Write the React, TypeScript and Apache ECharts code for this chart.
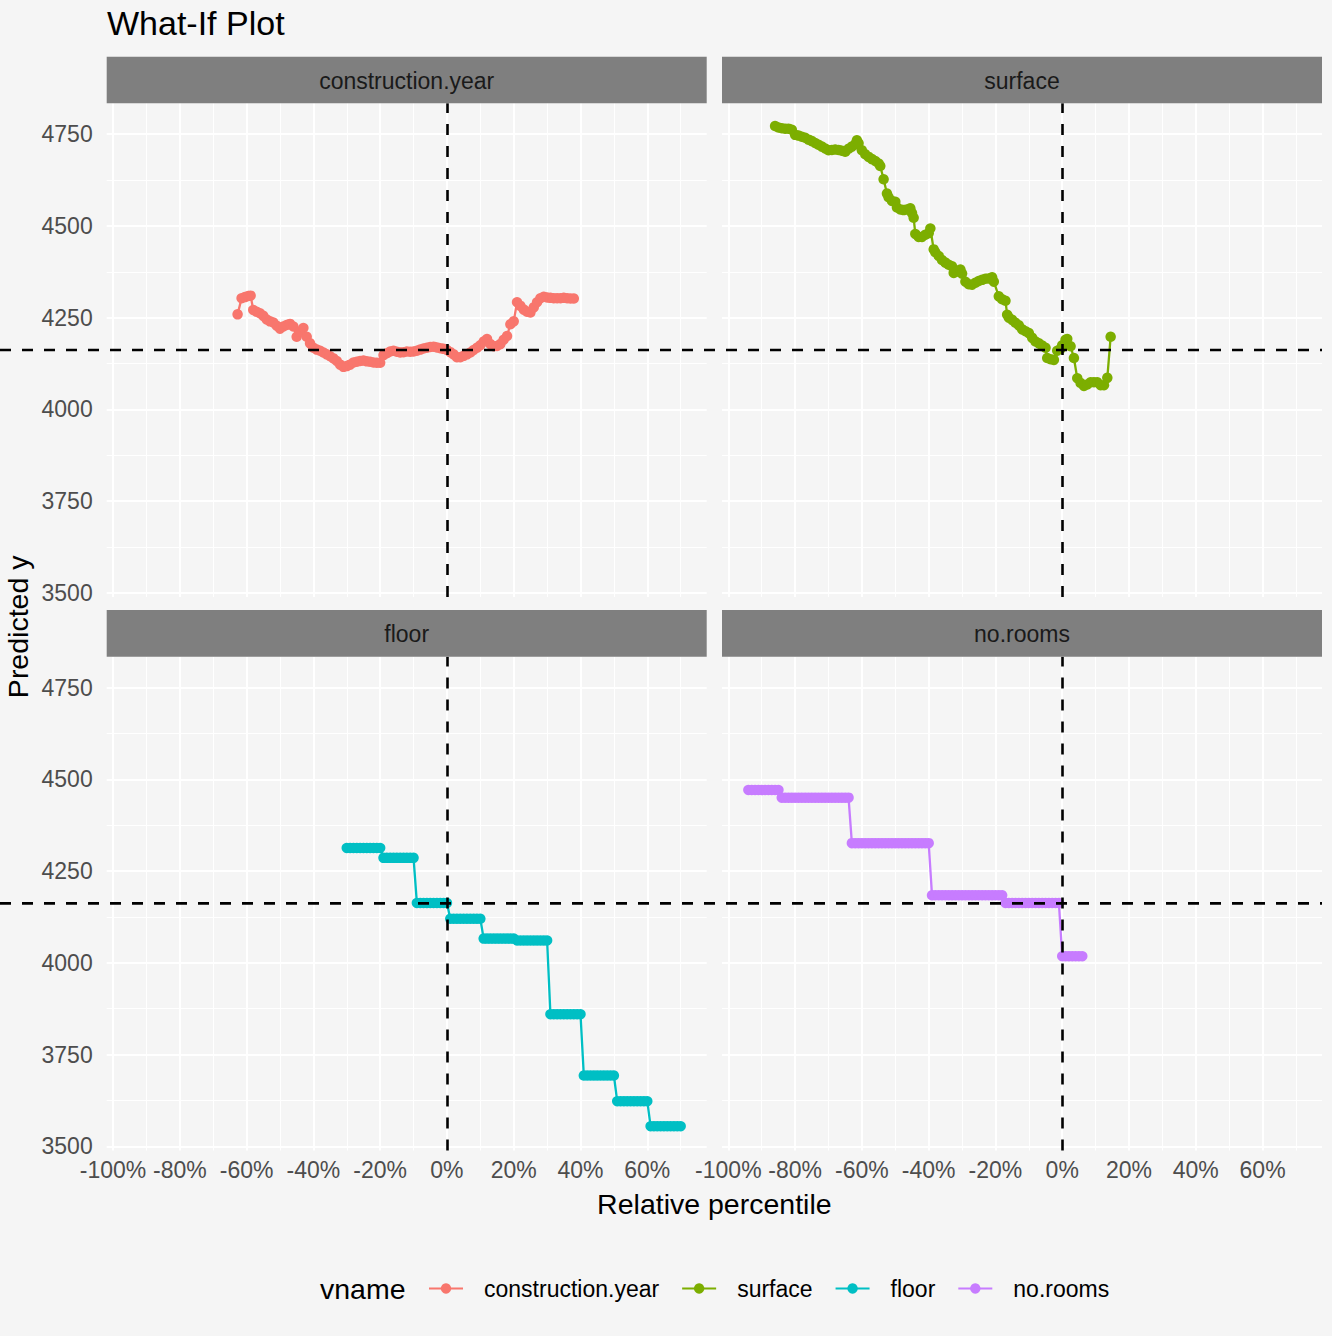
import React, { useEffect, useRef } from "react";
import * as echarts from "echarts";

// ---------- text ----------
const TITLE = "What-If Plot";
const X_TITLE = "Relative percentile";
const Y_TITLE = "Predicted y";
const LEGEND_TITLE = "vname";
const FACETS = ["construction.year", "surface", "floor", "no.rooms"];
const COLORS = ["#F8766D", "#7CAE00", "#00BFC4", "#C77CFF"];

// ---------- scales ----------
const X_TICKS = [-100, -80, -60, -40, -20, 0, 20, 40, 60];
const X_MINOR = [-90, -70, -50, -30, -10, 10, 30, 50, 70];
const Y_TICKS = [3500, 3750, 4000, 4250, 4500, 4750];
const Y_MINOR = [3625, 3875, 4125, 4375, 4625];
const X_RANGE = [-101.9, 77.8];
const Y_RANGE = [3489, 4834];
const REF_X = 0;
const REF_Y = 4162;

// ---------- data: [relative percentile %, predicted y] ----------
const constructionYear: [number, number][] = [
  [-62.7, 4259], [-61.5, 4303], [-60.5, 4306], [-59.5, 4309], [-58.8, 4310], [-58, 4271],
  [-57, 4266], [-56, 4262], [-55, 4255], [-54, 4245], [-53, 4240], [-52, 4237], [-51, 4228],
  [-50, 4220], [-49, 4226], [-48, 4230], [-47, 4233], [-46, 4226], [-45, 4198], [-44, 4212],
  [-43, 4222], [-42, 4198], [-41, 4180], [-40, 4168], [-39, 4163], [-38, 4160], [-37, 4155],
  [-36, 4150], [-35, 4145], [-34, 4139], [-33, 4132], [-32, 4122], [-31, 4116], [-30, 4118],
  [-29, 4122], [-28, 4128], [-27, 4130], [-26, 4132], [-25, 4133], [-24, 4131], [-23, 4130],
  [-22, 4128], [-21, 4127], [-20, 4127], [-19, 4148], [-18, 4153], [-17, 4158], [-16, 4160],
  [-15, 4157], [-14, 4155], [-13, 4156], [-12, 4158], [-11, 4157], [-10, 4158], [-9, 4160],
  [-8, 4163], [-7, 4166], [-6, 4168], [-5, 4170], [-4, 4171], [-3, 4169], [-2, 4167],
  [-1, 4165], [0, 4162], [1, 4156], [2, 4150], [3, 4142], [4, 4142], [5, 4146], [6, 4150],
  [7, 4155], [8, 4162], [9, 4168], [10, 4175], [11, 4185], [12, 4192], [13, 4178], [14, 4172],
  [15, 4173], [16, 4178], [17, 4190], [18, 4200], [19, 4232], [20, 4240], [21, 4292],
  [22, 4282], [23, 4272], [24, 4266], [25, 4264], [26, 4278], [27, 4292], [28, 4303],
  [29, 4307], [30, 4305], [31, 4304], [32, 4303], [33, 4303], [34, 4303], [35, 4304],
  [36, 4303], [37, 4302], [38, 4302],
];

const surface: [number, number][] = [
  [-86, 4772], [-85, 4768], [-84, 4766], [-83, 4765], [-82, 4765], [-81, 4762], [-80, 4748],
  [-79, 4746], [-78, 4743], [-77, 4740], [-76, 4735], [-75, 4731], [-74, 4726], [-73, 4721],
  [-72, 4716], [-71, 4711], [-70, 4706], [-69, 4707], [-68, 4708], [-67, 4707], [-66, 4705],
  [-65, 4702], [-64, 4710], [-63, 4716], [-62, 4722], [-61.5, 4733], [-61, 4725], [-60, 4706],
  [-59, 4695], [-58, 4688], [-57, 4682], [-56, 4677], [-55, 4670], [-54.5, 4663], [-53.5, 4627],
  [-52.5, 4588], [-52, 4578], [-51, 4568], [-50, 4566], [-49.5, 4550], [-48.5, 4545],
  [-47.5, 4543], [-46.5, 4545], [-45.5, 4548], [-45, 4535], [-44.5, 4522], [-44, 4478],
  [-43, 4470], [-42, 4470], [-41, 4476], [-40, 4480], [-39.5, 4493], [-38.5, 4436], [-38, 4428],
  [-37, 4418], [-36, 4407], [-35, 4400], [-34, 4394], [-33, 4390], [-32.5, 4372], [-31.5, 4376],
  [-30.5, 4381], [-30, 4370], [-29, 4348], [-28, 4341], [-27, 4340], [-26, 4345], [-25, 4350],
  [-24, 4353], [-23, 4356], [-22, 4357], [-21, 4360], [-20.5, 4348], [-19, 4308], [-18, 4300],
  [-17, 4296], [-16.5, 4258], [-16, 4250], [-15, 4244], [-14, 4236], [-13, 4229], [-12, 4218],
  [-11, 4213], [-10, 4208], [-9, 4195], [-8, 4185], [-7, 4180], [-6, 4174], [-5, 4168],
  [-4.5, 4140], [-3.5, 4137], [-2.5, 4135], [-1.5, 4160], [-0.5, 4165], [0, 4175], [1, 4190],
  [1.5, 4192], [2.5, 4172], [3.5, 4140], [4.5, 4085], [5.5, 4072], [6.5, 4064], [7.5, 4068],
  [8.5, 4074], [9.5, 4074], [10.5, 4074], [11.5, 4066], [12.5, 4066], [13.5, 4086], [14.5, 4198],
];

const floor: [number, number][] = [
  [-30, 4313], [-29, 4313], [-28, 4313], [-27, 4313], [-26, 4313], [-25, 4313], [-24, 4313],
  [-23, 4313], [-22, 4313], [-21, 4313], [-20, 4313],
  [-19, 4286], [-18, 4286], [-17, 4286], [-16, 4286], [-15, 4286], [-14, 4286], [-13, 4286],
  [-12, 4286], [-11, 4286], [-10, 4286],
  [-9, 4163], [-8, 4163], [-7, 4163], [-6, 4163], [-5, 4163], [-4, 4163], [-3, 4163],
  [-2, 4163], [-1, 4163], [0, 4163],
  [1, 4120], [2, 4120], [3, 4120], [4, 4120], [5, 4120], [6, 4120], [7, 4120], [8, 4120],
  [9, 4120], [10, 4120],
  [11, 4066], [12, 4066], [13, 4066], [14, 4066], [15, 4066], [16, 4066], [17, 4066],
  [18, 4066], [19, 4066], [20, 4066],
  [21, 4061], [22, 4061], [23, 4061], [24, 4061], [25, 4061], [26, 4061], [27, 4061],
  [28, 4061], [29, 4061], [30, 4061],
  [31, 3860], [32, 3860], [33, 3860], [34, 3860], [35, 3860], [36, 3860], [37, 3860],
  [38, 3860], [39, 3860], [40, 3860],
  [41, 3693], [42, 3693], [43, 3693], [44, 3693], [45, 3693], [46, 3693], [47, 3693],
  [48, 3693], [49, 3693], [50, 3693],
  [51, 3623], [52, 3623], [53, 3623], [54, 3623], [55, 3623], [56, 3623], [57, 3623],
  [58, 3623], [59, 3623], [60, 3623],
  [61, 3555], [62, 3555], [63, 3555], [64, 3555], [65, 3555], [66, 3555], [67, 3555],
  [68, 3555], [69, 3555], [70, 3555],
];

const noRooms: [number, number][] = [
  [-94, 4471], [-93, 4471], [-92, 4471], [-91, 4471], [-90, 4471], [-89, 4471], [-88, 4471],
  [-87, 4471], [-86, 4471], [-85, 4471],
  [-84, 4450], [-83, 4450], [-82, 4450], [-81, 4450], [-80, 4450], [-79, 4450], [-78, 4450],
  [-77, 4450], [-76, 4450], [-75, 4450], [-74, 4450], [-73, 4450], [-72, 4450], [-71, 4450],
  [-70, 4450], [-69, 4450], [-68, 4450], [-67, 4450], [-66, 4450], [-65, 4450], [-64, 4450],
  [-63, 4326], [-62, 4326], [-61, 4326], [-60, 4326], [-59, 4326], [-58, 4326], [-57, 4326],
  [-56, 4326], [-55, 4326], [-54, 4326], [-53, 4326], [-52, 4326], [-51, 4326], [-50, 4326],
  [-49, 4326], [-48, 4326], [-47, 4326], [-46, 4326], [-45, 4326], [-44, 4326], [-43, 4326],
  [-42, 4326], [-41, 4326], [-40, 4326],
  [-39, 4184], [-38, 4184], [-37, 4184], [-36, 4184], [-35, 4184], [-34, 4184], [-33, 4184],
  [-32, 4184], [-31, 4184], [-30, 4184], [-29, 4184], [-28, 4184], [-27, 4184], [-26, 4184],
  [-25, 4184], [-24, 4184], [-23, 4184], [-22, 4184], [-21, 4184], [-20, 4184], [-19, 4184],
  [-18, 4184],
  [-17, 4163], [-16, 4163], [-15, 4163], [-14, 4163], [-13, 4163], [-12, 4163], [-11, 4163],
  [-10, 4163], [-9, 4163], [-8, 4163], [-7, 4163], [-6, 4163], [-5, 4163], [-4, 4163],
  [-3, 4163], [-2, 4163], [-1, 4163],
  [0, 4018], [1, 4018], [2, 4018], [3, 4018], [4, 4018], [5, 4018], [6, 4018],
];

const SERIES_DATA = [constructionYear, surface, floor, noRooms];

// ---------- layout ----------
const W = 1332;
const H = 1336;
const FONT = '"Liberation Sans", Arial, Helvetica, sans-serif';
const BG = "#F5F5F5";
const PANEL_W = 600;
const PANEL_H = 493.7;
const COL_X = [106.7, 722];
const ROW_Y = [103.3, 656.7];
const STRIP_H = 46.6;

function gridLines() {
  const major = { color: "#FFFFFF", width: 2, type: "solid" as const };
  const minor = { color: "#FFFFFF", width: 1.1, type: "solid" as const };
  return [
    ...X_MINOR.map((v) => ({ xAxis: v, lineStyle: minor })),
    ...Y_MINOR.map((v) => ({ yAxis: v, lineStyle: minor })),
    ...X_TICKS.map((v) => ({ xAxis: v, lineStyle: major })),
    ...Y_TICKS.map((v) => ({ yAxis: v, lineStyle: major })),
  ];
}

export default function App() {
  const ref = useRef<HTMLDivElement>(null);

  useEffect(() => {
    if (!ref.current) return;
    const chart = echarts.init(ref.current, undefined, { renderer: "svg" });

    const grids = FACETS.map((_, i) => ({
      left: COL_X[i % 2],
      top: ROW_Y[Math.floor(i / 2)],
      width: PANEL_W,
      height: PANEL_H,
      containLabel: false,
    }));

    const xAxes = FACETS.map((_, i) => ({
      type: "value",
      gridIndex: i,
      min: X_RANGE[0],
      max: X_RANGE[1],
      axisLine: { show: false },
      axisTick: { show: false },
      splitLine: { show: false },
      axisLabel: {
        show: i >= 2,
        customValues: X_TICKS,
        formatter: (v: number) => `${v}%`,
        fontSize: 23,
        fontFamily: FONT,
        color: "#4D4D4D",
        margin: 8,
      },
    }));

    const yAxes = FACETS.map((_, i) => ({
      type: "value",
      gridIndex: i,
      min: Y_RANGE[0],
      max: Y_RANGE[1],
      axisLine: { show: false },
      axisTick: { show: false },
      splitLine: { show: false },
      axisLabel: {
        show: i % 2 === 0,
        customValues: Y_TICKS,
        formatter: (v: number) => String(v),
        fontSize: 23,
        fontFamily: FONT,
        color: "#4D4D4D",
        margin: 14,
      },
    }));

    const series: any[] = [];
    FACETS.forEach((name, i) => {
      series.push({
        type: "line",
        xAxisIndex: i,
        yAxisIndex: i,
        data: [],
        z: 0,
        silent: true,
        markLine: {
          z: 0,
          silent: true,
          symbol: "none",
          label: { show: false },
          emphasis: { disabled: true },
          data: gridLines(),
        },
      });
      series.push({
        name,
        type: "line",
        xAxisIndex: i,
        yAxisIndex: i,
        data: SERIES_DATA[i],
        symbol: "circle",
        symbolSize: 10.5,
        showAllSymbol: true,
        lineStyle: { color: COLORS[i], width: 2.3 },
        itemStyle: { color: COLORS[i], borderWidth: 0, opacity: 1 },
        emphasis: { disabled: true },
        z: 3,
      });
      series.push({
        type: "line",
        xAxisIndex: i,
        yAxisIndex: i,
        data: [],
        z: 10,
        silent: true,
        markLine: {
          z: 10,
          silent: true,
          symbol: "none",
          label: { show: false },
          emphasis: { disabled: true },
          lineStyle: { color: "#000000", width: 2.6, type: [11, 11] },
          data: [{ xAxis: REF_X }],
        },
      });
    });

    chart.setOption({
      animation: false,
      backgroundColor: BG,
      title: {
        text: TITLE,
        left: 107,
        top: 6,
        padding: 0,
        textStyle: { fontSize: 34, fontWeight: "normal", color: "#000000", fontFamily: FONT },
      },
      legend: {
        data: FACETS,
        left: 428,
        top: 1277,
        padding: 0,
        itemWidth: 34,
        itemHeight: 13,
        itemGap: 22,
        selectedMode: false,
        itemStyle: { borderWidth: 0 },
        textStyle: { fontSize: 23, fontFamily: FONT, color: "#000000", padding: [0, 0, 0, 16] },
      },
      grid: grids,
      xAxis: xAxes,
      yAxis: yAxes,
      series,
    });

    const yTop = (chart.convertToPixel({ gridIndex: 0 } as any, [REF_X, REF_Y]) as number[])[1];
    const yBot = (chart.convertToPixel({ gridIndex: 2 } as any, [REF_X, REF_Y]) as number[])[1];

    const graphics: any[] = [];
    FACETS.forEach((name, i) => {
      const x = COL_X[i % 2];
      const y = ROW_Y[Math.floor(i / 2)] - STRIP_H;
      graphics.push({
        type: "rect",
        shape: { x, y, width: PANEL_W, height: STRIP_H },
        style: { fill: "#7F7F7F" },
        z: 10,
        silent: true,
      });
      graphics.push({
        type: "text",
        x: x + PANEL_W / 2,
        y: y + STRIP_H / 2 + 1,
        style: {
          text: name,
          fontSize: 23,
          fontFamily: FONT,
          fill: "#1A1A1A",
          align: "center",
          verticalAlign: "middle",
        },
        z: 11,
        silent: true,
      });
    });
    [yTop, yBot].forEach((yy) => {
      graphics.push({
        type: "line",
        shape: { x1: 0, y1: yy, x2: 1322, y2: yy },
        style: { stroke: "#000000", lineWidth: 2.6, lineDash: [11, 11] },
        z: 20,
        silent: true,
      });
    });
    graphics.push({
      type: "text",
      x: (COL_X[0] + COL_X[1] + PANEL_W) / 2,
      y: 1204,
      style: {
        text: X_TITLE,
        fontSize: 28.5,
        fontFamily: FONT,
        fill: "#000000",
        align: "center",
        verticalAlign: "middle",
      },
      silent: true,
    });
    graphics.push({
      type: "text",
      x: 18,
      y: (ROW_Y[0] + ROW_Y[1] + PANEL_H) / 2,
      rotation: Math.PI / 2,
      style: {
        text: Y_TITLE,
        fontSize: 28.5,
        fontFamily: FONT,
        fill: "#000000",
        align: "center",
        verticalAlign: "middle",
      },
      silent: true,
    });
    graphics.push({
      type: "text",
      x: 320,
      y: 1289,
      style: {
        text: LEGEND_TITLE,
        fontSize: 28.5,
        fontFamily: FONT,
        fill: "#000000",
        align: "left",
        verticalAlign: "middle",
      },
      silent: true,
    });

    chart.setOption({ graphic: graphics });

    return () => {
      chart.dispose();
    };
  }, []);

  return (
    <div
      ref={ref}
      style={{ position: "absolute", left: 0, top: 0, width: W, height: H }}
    />
  );
}
